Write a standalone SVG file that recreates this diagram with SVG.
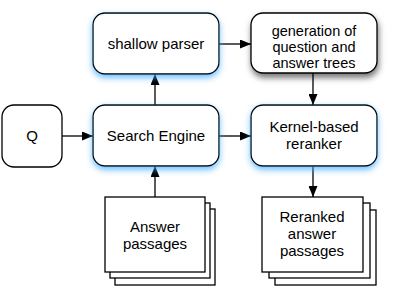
<svg xmlns="http://www.w3.org/2000/svg" width="395" height="290" viewBox="0 0 395 290">
<style>
.box{fill:#fff;stroke:#000;stroke-width:1.3}
.t{font-family:"Liberation Sans",Arial,sans-serif;font-size:15px;fill:#000;text-anchor:middle}
.g{font-size:14.5px}
.c{stroke:#000;stroke-width:1.3;fill:none;marker-end:url(#ah)}
</style>
<defs>
<marker id="ah" viewBox="0 0 11 9" refX="11" refY="4.5" markerWidth="11" markerHeight="9" markerUnits="userSpaceOnUse" orient="auto">
<path d="M0,0 L11,4.5 L0,9 z" fill="#000"/>
</marker>
<filter id="glow" x="-20%" y="-30%" width="140%" height="170%">
<feDropShadow dx="0" dy="3" stdDeviation="3" flood-color="#3aa8ff" flood-opacity="0.75"/>
</filter>
<filter id="shadow" x="-20%" y="-30%" width="140%" height="170%">
<feDropShadow dx="1" dy="4" stdDeviation="3" flood-color="#000" flood-opacity="0.55"/>
</filter>
</defs>
<rect width="395" height="290" fill="#fff"/>
<g id="connectors">
<line class="c" x1="62" y1="136" x2="93" y2="136"/>
<line class="c" x1="155" y1="105" x2="155" y2="74"/>
<line class="c" x1="219" y1="44" x2="251" y2="44"/>
<line class="c" x1="313" y1="73" x2="313" y2="105"/>
<line class="c" x1="219" y1="136" x2="251" y2="136"/>
<line class="c" x1="313" y1="166" x2="313" y2="197"/>
<line class="c" x1="155" y1="197" x2="155" y2="166"/>
</g>
<g id="q">
<rect class="box" x="2" y="105" width="60" height="62" rx="12"/>
<text class="t" x="32" y="141">Q</text>
</g>
<g id="shallow-parser">
<rect class="box" x="93" y="13" width="126" height="61" rx="12" filter="url(#glow)"/>
<text class="t" x="156" y="49">shallow parser</text>
</g>
<g id="generation">
<rect class="box" x="251" y="13" width="126" height="60" rx="12" filter="url(#shadow)"/>
<text class="t g" x="314" y="36">generation of</text>
<text class="t g" x="314" y="52">question and</text>
<text class="t g" x="314" y="68">answer trees</text>
</g>
<g id="search-engine">
<rect class="box" x="93" y="105" width="126" height="61" rx="12" filter="url(#glow)"/>
<text class="t" x="156" y="141">Search Engine</text>
</g>
<g id="kernel-reranker">
<rect class="box" x="251" y="105" width="126" height="61" rx="12" filter="url(#glow)"/>
<text class="t" x="314" y="132">Kernel-based</text>
<text class="t" x="314" y="149">reranker</text>
</g>
<g id="answer-passages">
<rect class="box" x="115" y="209" width="100" height="76"/>
<rect class="box" x="110" y="203" width="100" height="75"/>
<rect class="box" x="105" y="197" width="100" height="75"/>
<text class="t" x="155" y="232">Answer</text>
<text class="t" x="155" y="249">passages</text>
</g>
<g id="reranked-passages">
<rect class="box" x="275" y="210" width="101" height="75"/>
<rect class="box" x="269" y="203" width="101" height="75"/>
<rect class="box" x="262" y="197" width="101" height="75"/>
<text class="t" x="312" y="222">Reranked</text>
<text class="t" x="312" y="239">answer</text>
<text class="t" x="312" y="256">passages</text>
</g>
</svg>
